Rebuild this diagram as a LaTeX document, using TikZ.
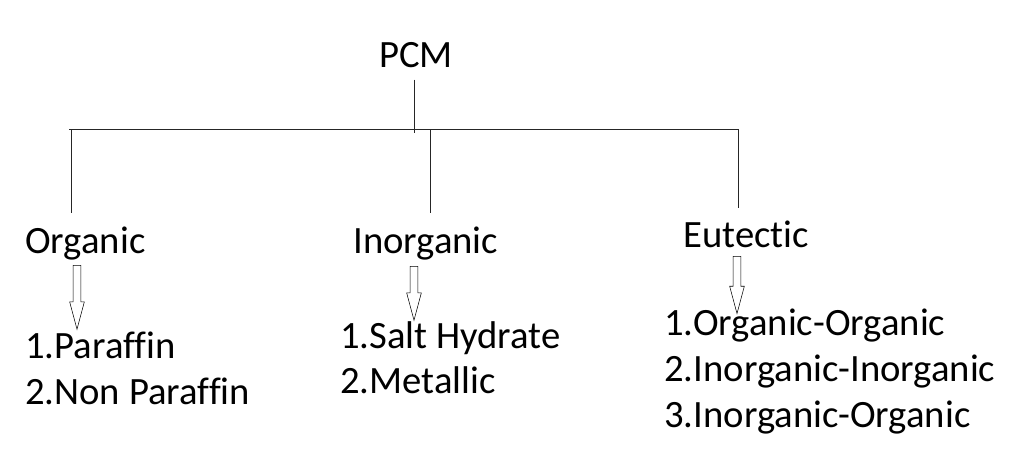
\documentclass[tikz,border=0pt]{standalone}
\usepackage{fontspec}
\setmainfont{Carlito}[Ligatures=NoCommon]
\usetikzlibrary{positioning,shapes.arrows}
\tikzset{
    heading/.style={inner sep=0pt,anchor=base west,font=\fontsize{29}{34}\selectfont},
    entry/.style={inner sep=0pt,anchor=base west,font=\fontsize{29}{34}\selectfont},
    hollow/.style={single arrow,draw,fill=white,thin,shape border rotate=270,inner sep=2.6pt,
        minimum width=11pt,single arrow head extend=2.6pt,single arrow tip angle=30,anchor=tail},
    bar/.style={-,semithick,black!85}
}

\begin{document}
\begin{tikzpicture}[x=0.75pt,y=-0.75pt]
    \useasboundingbox (0,0) rectangle (1036,475);

    \node[heading,anchor=base] (pcm) at (416,67) {PCM};

    \node[heading] (organic)   at (25,253)  {Organic};
    \node[heading] (inorganic) at (353,253) {Inorganic};
    \node[heading] (eutectic)  at (683,247) {Eutectic};

    % tree
    \coordinate (hub)        at (414,133);
    \coordinate (left end)   at (69,129);
    \coordinate (right end)  at (738,129);
    \coordinate (org top)    at (71,129);
    \coordinate (org foot)   at (71,213);
    \coordinate (inorg top)  at (430,129);
    \coordinate (inorg foot) at (430,213);
    \coordinate (eut foot)   at (738,208);

    \draw[bar,shorten <=9pt] (pcm.south -| hub) -- (hub);
    \draw[bar] (left end) -- (right end) -- (eut foot);
    \draw[bar] (org top) -- (org foot);
    \draw[bar] (inorg top) -- (inorg foot);

    % arrows
    \node[hollow,minimum height=48pt] (orgarrow)   at (77,265)  {};
    \node[hollow,minimum height=40.5pt] (inorgarrow) at (414,266) {};
    \node[hollow,minimum height=43pt] (eutarrow)   at (737,256) {};

    % lists
    \node[entry] (organic 1) at (25,358) {1.Paraffin};
    \node[entry] (organic 2) at ([yshift=-35pt]organic 1.base west) {2.Non Paraffin};

    \node[entry] (inorganic 1) at (340,348) {1.Salt Hydrate};
    \node[entry] (inorganic 2) at ([yshift=-34pt]inorganic 1.base west) {2.Metallic};

    \node[entry] (eutectic 1) at (664,335) {1.Organic-Organic};
    \node[entry] (eutectic 2) at ([yshift=-35pt]eutectic 1.base west) {2.Inorganic-Inorganic};
    \node[entry] (eutectic 3) at ([yshift=-34.5pt]eutectic 2.base west) {3.Inorganic-Organic};
\end{tikzpicture}
\end{document}
